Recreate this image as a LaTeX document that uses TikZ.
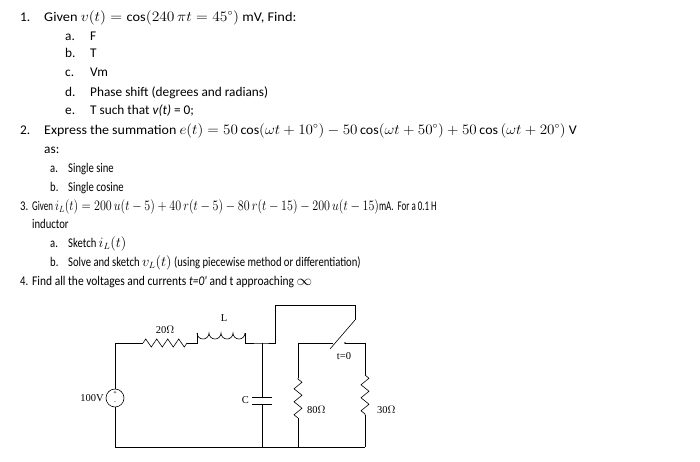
\documentclass[tikz,border=0pt]{standalone}
\usepackage{amsmath}
\usepackage{graphicx}
\usepackage{fontspec}
\setmainfont{Carlito}
\newfontfamily\cond[FakeStretch=0.8]{Carlito}
\newfontfamily\tms{Liberation Serif}
\usetikzlibrary{decorations.pathmorphing}
\begin{document}
\begin{tikzpicture}[x=1pt,y=-1pt,
  txt/.style={anchor=base west,inner sep=0pt,font=\fontsize{13.3}{15}\selectfont},
  ctx/.style={anchor=base west,inner sep=0pt,font=\fontsize{13.3}{15}\cond},
  lab/.style={inner sep=0pt,font=\fontsize{10.5}{12}\tms},
  wire/.style={line width=0.6pt}]
\useasboundingbox (0,0) rectangle (700,461);
% item 1
\node[txt] (n1) at (20,21) {1.};
\node[txt] (t1) at (44,21) {\scalebox{1.08}[1]{Given $v(t)=\cos(240\,\pi t=45^\circ)$ mV, Find:}};
\node[txt] (a1) at (65,40) {a.};\node[txt] (a1t) at (90,40) {F};
\node[txt] (b1) at (65,57) {b.};\node[txt] (b1t) at (90,57) {T};
\node[txt] (c1) at (65,76) {c.};\node[txt] (c1t) at (90,76) {Vm};
\node[txt] (d1) at (65,96) {d.};\node[txt] (d1t) at (90,96) {Phase shift (degrees and radians)};
\node[txt] (e1) at (65,114) {e.};\node[txt] (e1t) at (90,114) {T such that \textit{v(t)} = 0;};
% item 2
\node[txt] (n2) at (20,134) {2.};
\node[txt] (t2) at (44,134) {\scalebox{1.05}[1]{Express the summation $e(t)=50\cos(\omega t+10^\circ)-50\cos(\omega t+50^\circ)+50\cos\,(\omega t+20^\circ)$ V}};
\node[txt] (as) at (44,153) {as:};
\node[ctx] (a2) at (50,172) {a.};\node[ctx] (a2t) at (68,172) {Single sine};
\node[ctx] (b2) at (50,191) {b.};\node[ctx] (b2t) at (68,191) {Single cosine};
% item 3
\node[ctx] (n3) at (20,210) {3.};
\node[ctx] (t3) at (32,210) {\scalebox{0.84}[1]{Given $i_L(t)=200\,u(t-5)+40\,r(t-5)-80\,r(t-15)-200\,u(t-15)$mA.\ \ For a 0.1 H}};
\node[ctx] (ind) at (32,228) {inductor};
\node[ctx] (a3) at (50,247) {a.};\node[ctx] (a3t) at (68,247) {Sketch $i_L(t)$};
\node[ctx] (b3) at (50,266) {b.};\node[ctx] (b3t) at (68,266) {Solve and sketch $v_L(t)$ (using piecewise method or differentiation)};
\node[ctx] (n4) at (20,285) {4.};
\node[ctx] (t4) at (32,285) {\scalebox{1.08}[1]{Find all the voltages and currents \textit{t=0'} and t approaching $\infty$}};
% circuit
\node[circle,draw,wire,minimum size=18pt,inner sep=0pt] (src) at (115,398) {};
\node[font=\fontsize{6}{6}\selectfont,inner sep=0pt] (sp) at (115,393) {+};
\node[font=\fontsize{6}{6}\selectfont,inner sep=0pt] (sm) at (115,403) {-};
\node[lab,anchor=east] (vl) at (104,398) {100V};
\coordinate (tl) at (115,343);
\coordinate (bl) at (115,447);
\coordinate (r1a) at (143,343);
\coordinate (r1b) at (187,343);
\coordinate (lb) at (245,343);
\coordinate (j) at (262,343);
\coordinate (jb) at (262,447);
\draw[wire] (src.north) -- (tl) -- (r1a);
\draw[wire] (src.south) -- (bl) -- (365,447);
\draw[wire,decorate,decoration={zigzag,segment length=11pt,amplitude=4pt}] (r1a) -- (r1b);
\draw[wire] (r1b) -- (197,343) -- (197,333);
\draw[wire] (197,333) arc(180:0:6) arc(180:0:6) arc(180:0:6) arc(180:0:6);
\draw[wire] (245,333) -- (lb) -- (j) -- (275,343) -- (275,305) -- (355,305) -- (355,320);
\node[lab] (r1l) at (165,330) {20$\Omega$};
\node[lab] (ll) at (224,318) {L};
% capacitor
\draw[wire] (j) -- (262,397);
\draw[wire] (252,397) -- (272,397);
\draw[wire] (252,404) -- (272,404);
\draw[wire] (262,404) -- (jb);
\node[lab,anchor=east] (cl) at (249,400) {C};
% 80 ohm branch
\draw[wire] (298,447) -- (298,418);
\draw[wire,decorate,decoration={zigzag,segment length=13pt,amplitude=4pt}] (298,418) -- (298,378);
\draw[wire] (298,378) -- (298,343) -- (333,343);
\node[lab,anchor=west] (r2l) at (307,410) {80$\Omega$};
% switch
\draw[wire] (355,320) -- (330,349);
\fill (345,343) circle (0.8pt);
\draw[wire] (345,343) -- (365,343) -- (365,375);
\draw[wire,decorate,decoration={zigzag,segment length=13pt,amplitude=4pt}] (365,375) -- (365,415);
\draw[wire] (365,415) -- (365,447);
\node[lab] (sw) at (344,356) {t=0};
\node[lab,anchor=west] (r3l) at (377,410) {30$\Omega$};
\end{tikzpicture}
\end{document}
